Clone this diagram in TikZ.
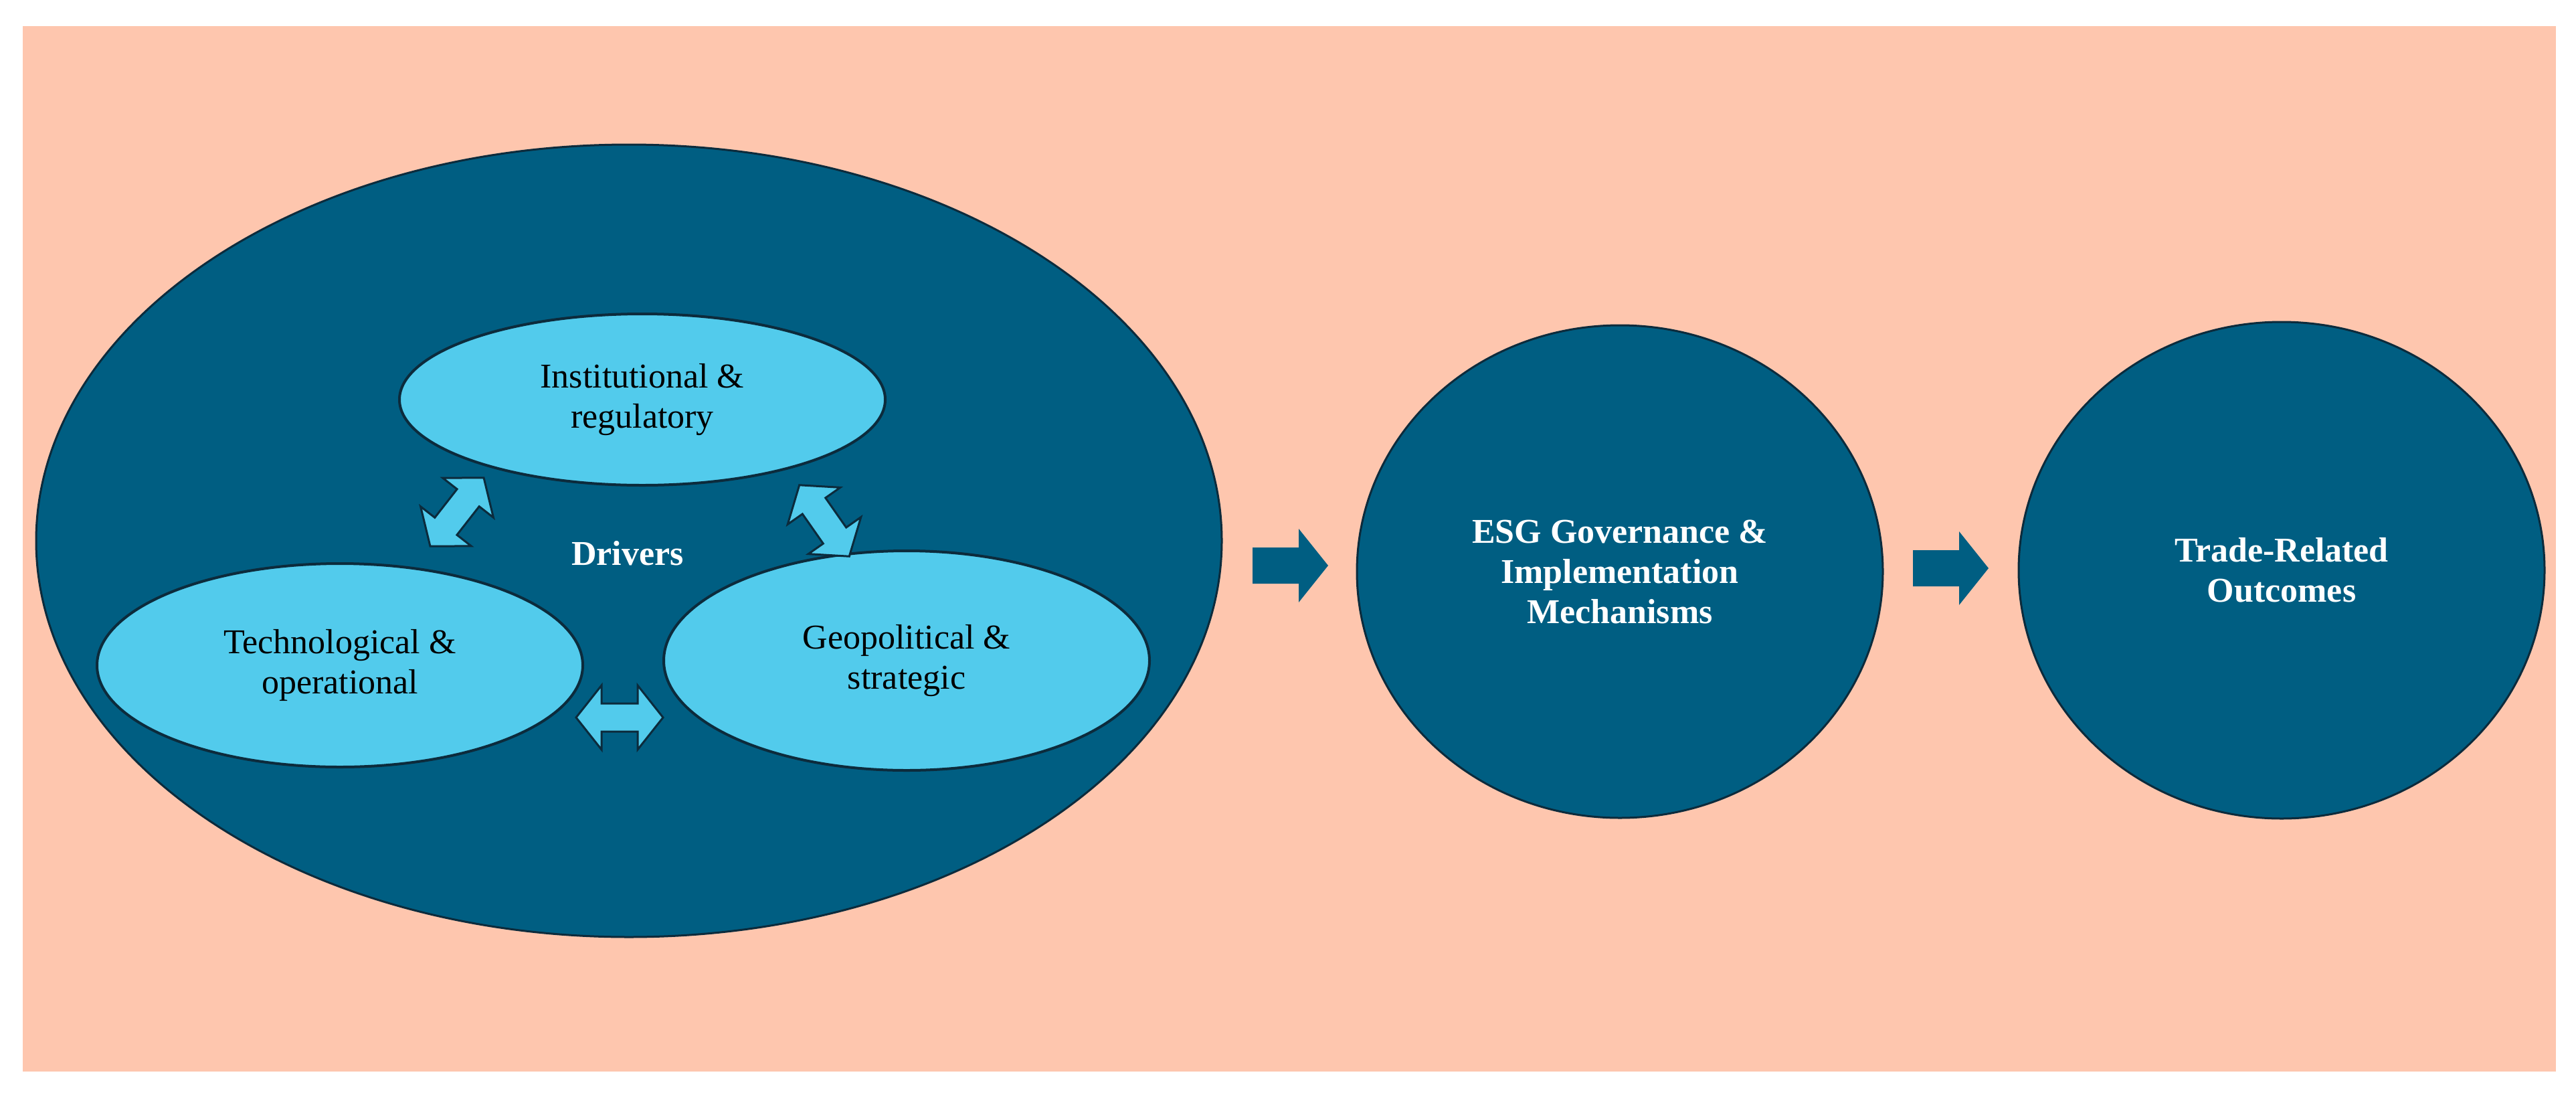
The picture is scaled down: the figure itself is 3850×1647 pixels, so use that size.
\documentclass[tikz,border=0pt]{standalone}
\usepackage{fontspec}
\setmainfont{Liberation Serif}
\usetikzlibrary{shapes.geometric}
\definecolor{bg}{HTML}{FEC6AE}
\definecolor{dk}{HTML}{005E82}
\definecolor{lt}{HTML}{52CBEC}
\definecolor{ln}{HTML}{0C2B3C}
\begin{document}
\begin{tikzpicture}[x=1pt,y=-1pt,
  big/.style={ellipse,draw=ln,line width=3pt,fill=dk,inner sep=0pt},
  small/.style={ellipse,draw=ln,line width=4pt,fill=lt,inner sep=0pt,align=center,font=\fontsize{52}{60}\selectfont},
  wtxt/.style={text=white,font=\fontsize{52}{60}\selectfont\bfseries,align=center},
  darr/.style={draw=ln,line width=3pt,fill=lt,line join=miter},
  sarr/.style={fill=dk}]
\useasboundingbox (0,0) rectangle (3850,1647);
\fill[white] (0,0) rectangle (3850,1647);
\fill[bg] (34,39) rectangle (3820,1601);
\node[big,minimum width=1772pt,minimum height=1184pt] (drv) at (940,808) {};
\node[small,minimum width=726pt,minimum height=256pt] (inst) at (960,597) {Institutional \&\\regulatory};
\node[small,minimum width=726pt,minimum height=304pt] (tech) at (508,994) {Technological \&\\operational};
\node[small,minimum width=726pt,minimum height=328pt] (geo) at (1355,987) {Geopolitical \&\\strategic};
\node[wtxt] (dtxt) at (938,827) {Drivers};
\foreach \p/\r in {{(683,765)}/52,{(1232,778)}/-55,{(926,1072)}/0}{
  \draw[darr,shift={\p},rotate=\r] (-65,0) -- (-27,-48) -- (-27,-21) -- (27,-21) -- (27,-48) -- (65,0) -- (27,48) -- (27,21) -- (-27,21) -- (-27,48) -- cycle;
}
\node[big,minimum width=786pt,minimum height=736pt,wtxt] (esg) at (2421,854) {ESG Governance \&\\Implementation\\Mechanisms};
\node[big,minimum width=786pt,minimum height=742pt,wtxt] (trade) at (3410,852) {Trade-Related\\Outcomes};
\foreach \p in {{(1928,845)},{(2915,849)}}{
  \fill[sarr,shift={\p}] (-56,-27) -- (13,-27) -- (13,-55) -- (57,0) -- (13,55) -- (13,27) -- (-56,27) -- cycle;
}
\end{tikzpicture}
\end{document}
